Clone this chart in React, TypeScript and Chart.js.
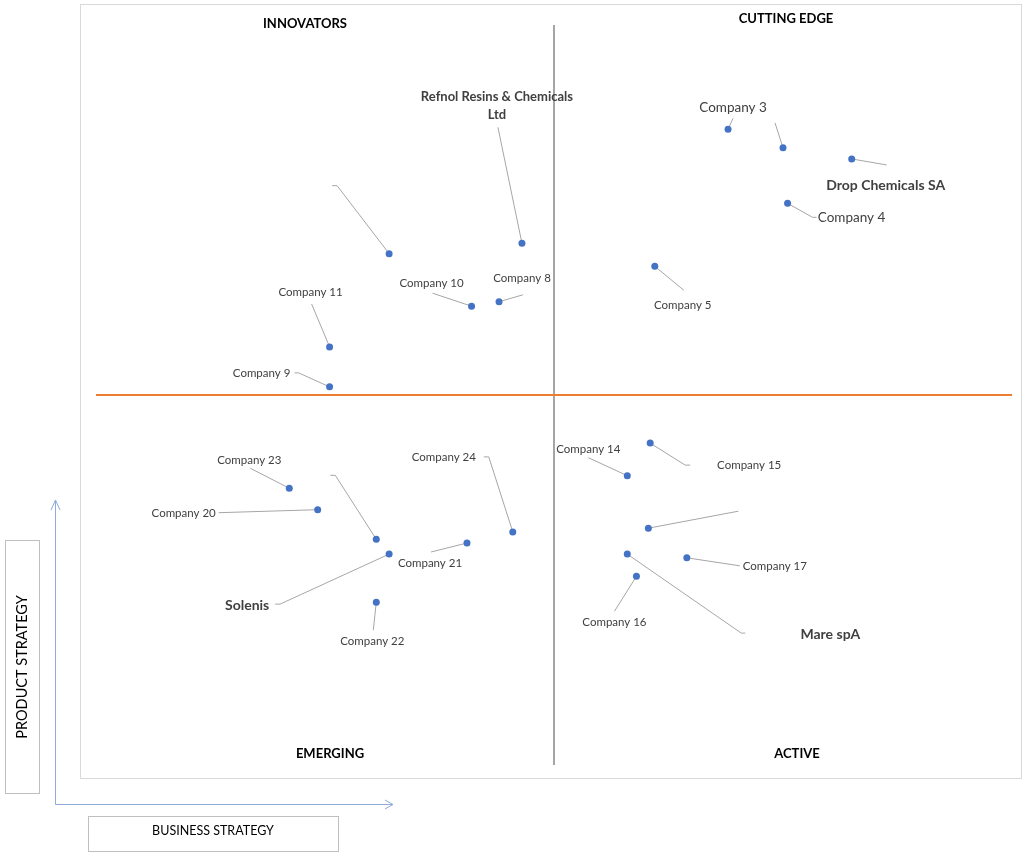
import React, { useEffect, useRef } from "react";
import { Chart, registerables } from "chart.js";

Chart.register(...registerables);

// ---- data ----
const companyNames: string[] = [
  "", "Refnol Resins & Chemicals Ltd", "Company 10", "Company 8", "Company 11", "Company 9",
  "Company 3", "", "Drop Chemicals SA", "Company 4", "Company 5",
  "Company 23", "Company 20", "", "Solenis", "Company 21", "Company 24", "Company 22",
  "Company 14", "Company 15", "", "Mare spA", "Company 17", "Company 16",
];
const businessStrategy: number[] = [
  3.2, 4.65, 4.1, 4.4, 2.55, 2.55,
  6.9, 7.5, 8.25, 7.55, 6.1,
  2.11, 2.42, 3.06, 3.2, 4.05, 4.55, 3.06,
  5.8, 6.05, 6.03, 5.8, 6.45, 5.9,
];
const productStrategy: number[] = [
  6.91, 7.05, 6.2, 6.26, 5.65, 5.11,
  8.59, 8.34, 8.19, 7.59, 6.74,
  3.74, 3.45, 3.05, 2.85, 3.0, 3.15, 2.2,
  3.91, 4.35, 3.2, 2.85, 2.8, 2.55,
];
const quadrantNames: string[] = ["INNOVATORS", "CUTTING EDGE", "EMERGING", "ACTIVE"];
const xAxisTitle = "BUSINESS STRATEGY";
const yAxisTitle = "PRODUCT STRATEGY";
const axisMin = 0;
const axisMax = 10;
const axisMid = 5;

// ---- label layout (pixel offsets from each point) ----
const labelOffsets: [number, number][] = [
  [0, 0], [-25, -137], [-40, -23], [23, -23], [-19, -55], [-68, -14],
  [5, -22], [0, 0], [34, 27], [64, 14], [28, 39],
  [-40, -28], [-134, 4], [0, 0], [-142, 51], [-37, 20], [-69, -75], [-4, 39],
  [-39, -26], [99, 22], [0, 0], [203, 80], [88, 8], [-22, 46],
];
const leaderPaths: [number, number][][] = [
  [[-52, -68], [-57, -68]], [[-24, -116]], [[-39, -13]], [[24, -7]], [[-18, -43]], [[-31, -14], [-35, -14]],
  [[5, -11]], [[-8, -25]], [[35, 6]], [[25, 14], [29, 14]], [[29, 24]],
  [[-39, -20]], [[-99, 3]], [[-41, -64], [-46, -64]], [[-109, 50], [-114, 50]], [[-36, 9]], [[-24, -75], [-29, -75]], [[-3, 28]],
  [[-39, -18]], [[35, 22], [40, 22]], [[90, -17]], [[114, 79], [118, 79]], [[53, 8]], [[-22, 35]],
];
// 0 = small, 1 = medium, 2 = bold
const labelKinds: number[] = [
  0, 2, 0, 0, 0, 0,
  1, 0, 2, 1, 0,
  0, 0, 0, 2, 0, 0, 0,
  0, 0, 0, 2, 0, 0,
];

const FONT = "Lato, 'Open Sans', sans-serif";

const overlayPlugin = {
  id: "overlay",
  beforeDatasetsDraw(chart: any) {
    const ctx = chart.ctx;
    const xs = chart.scales.x;
    const ys = chart.scales.y;
    ctx.save();
    // outer frame
    ctx.strokeStyle = "#d9d9d9";
    ctx.lineWidth = 1;
    ctx.strokeRect(80.5, 4.5, 941, 774);
    // leader lines
    ctx.strokeStyle = "#a6a6a6";
    ctx.lineWidth = 1;
    for (let i = 0; i < companyNames.length; i++) {
      const px = xs.getPixelForValue(businessStrategy[i]);
      const py = ys.getPixelForValue(productStrategy[i]);
      ctx.beginPath();
      ctx.moveTo(px, py);
      for (const [dx, dy] of leaderPaths[i]) ctx.lineTo(px + dx, py + dy);
      ctx.stroke();
    }
    ctx.restore();
  },
  afterDraw(chart: any) {
    const ctx = chart.ctx;
    const xs = chart.scales.x;
    const ys = chart.scales.y;
    const area = chart.chartArea;
    ctx.save();
    ctx.textAlign = "center";
    ctx.textBaseline = "middle";
    // company labels
    for (let i = 0; i < companyNames.length; i++) {
      const name = companyNames[i];
      if (!name) continue;
      const px = xs.getPixelForValue(businessStrategy[i]);
      const py = ys.getPixelForValue(productStrategy[i]);
      const lx = px + labelOffsets[i][0];
      const ly = py + labelOffsets[i][1];
      const kind = labelKinds[i];
      ctx.fillStyle = "#404040";
      if (kind === 2) {
        ctx.font = `bold ${name.length > 20 ? 13 : 14}px ${FONT}`;
        if (name.length > 20) {
          const cut = name.lastIndexOf(" ");
          ctx.fillText(name.slice(0, cut), lx, ly - 9);
          ctx.fillText(name.slice(cut + 1), lx, ly + 9);
        } else {
          ctx.fillText(name, lx, ly);
        }
      } else if (kind === 1) {
        ctx.font = `13.5px ${FONT}`;
        ctx.fillText(name, lx, ly);
      } else {
        ctx.font = `11.5px ${FONT}`;
        ctx.fillText(name, lx, ly);
      }
    }
    // quadrant titles
    ctx.fillStyle = "#000000";
    ctx.font = `bold 13px ${FONT}`;
    const q = [
      [305, 24], [786, 19], [330, 754], [797, 754],
    ];
    quadrantNames.forEach((t, i) => ctx.fillText(t, q[i][0], q[i][1]));

    // axis arrows
    ctx.strokeStyle = "#8faadc";
    ctx.lineWidth = 1;
    ctx.beginPath();
    ctx.moveTo(55.5, 804.5);
    ctx.lineTo(55.5, 500);
    ctx.moveTo(51, 510);
    ctx.lineTo(55.5, 500);
    ctx.lineTo(60, 510);
    ctx.moveTo(55.5, 804.5);
    ctx.lineTo(393, 804.5);
    ctx.moveTo(385, 800);
    ctx.lineTo(393, 804.5);
    ctx.lineTo(385, 809);
    ctx.stroke();

    // axis title boxes
    ctx.strokeStyle = "#bfbfbf";
    ctx.strokeRect(5.5, 540.5, 34, 253);
    ctx.strokeRect(88.5, 816.5, 250, 35);
    ctx.fillStyle = "#000000";
    ctx.font = `12.5px ${FONT}`;
    ctx.fillText(xAxisTitle, 213, 831);
    ctx.save();
    ctx.translate(22, 667);
    ctx.rotate(-Math.PI / 2);
    ctx.font = `14.5px ${FONT}`;
    ctx.fillText(yAxisTitle, 0, 0);
    ctx.restore();
    ctx.restore();
    void area;
  },
};

export default function App() {
  const ref = useRef<HTMLCanvasElement | null>(null);
  useEffect(() => {
    if (!ref.current) return;
    const points = businessStrategy.map((x, i) => ({ x, y: productStrategy[i] }));
    const chart = new Chart(ref.current, {
      type: "scatter",
      data: {
        datasets: [
          {
            label: "vertical",
            data: [{ x: axisMid, y: axisMin }, { x: axisMid, y: axisMax }],
            showLine: true,
            borderColor: "#a5a5a5",
            borderWidth: 2,
            pointRadius: 0,
            order: 3,
          },
          {
            label: "horizontal",
            data: [{ x: axisMin, y: axisMid }, { x: axisMax, y: axisMid }],
            showLine: true,
            borderColor: "#ed7d31",
            borderWidth: 2,
            pointRadius: 0,
            order: 2,
          },
          {
            label: "companies",
            data: points,
            backgroundColor: "#4472c4",
            borderColor: "#4472c4",
            pointRadius: 3.5,
            borderWidth: 0,
            order: 1,
          },
        ],
      },
      options: {
        responsive: false,
        animation: false,
        devicePixelRatio: 1,
        layout: { padding: { left: 96, right: 21, top: 25, bottom: 94 } },
        plugins: { legend: { display: false }, tooltip: { enabled: false } },
        scales: {
          x: { type: "linear", min: axisMin, max: axisMax, display: false },
          y: { type: "linear", min: axisMin, max: axisMax, display: false },
        },
      },
      plugins: [overlayPlugin],
    } as any);
    return () => chart.destroy();
  }, []);
  return (
    <div style={{ position: "fixed", left: 0, top: 0, width: 1033, height: 859, background: "#fff" }}>
      <canvas ref={ref} width={1033} height={859} style={{ width: 1033, height: 859, display: "block" }} />
    </div>
  );
}
